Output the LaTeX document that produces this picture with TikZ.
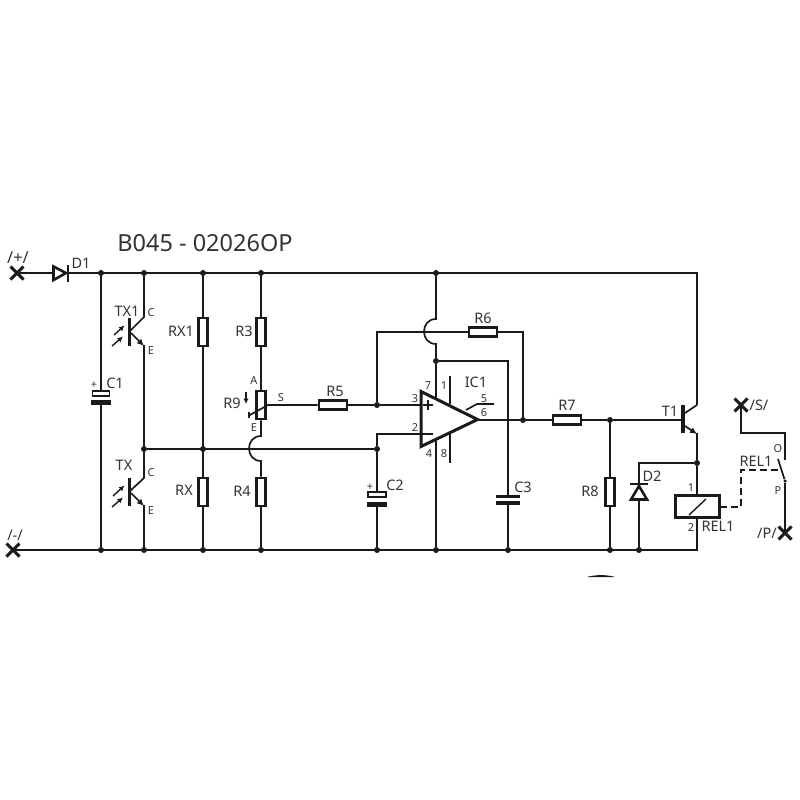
\documentclass[tikz,border=0pt]{standalone}
\usepackage{fontspec}
\setmainfont{Noto Sans}
\usetikzlibrary{arrows.meta}
\definecolor{ink}{HTML}{1A1A1A}
\definecolor{txt}{HTML}{333333}
\tikzset{
  wire/.style={draw=ink,line width=1.7pt,line join=miter},
  thickw/.style={draw=ink,line width=2.1pt},
  resv/.style={draw=ink,line width=2.6pt,fill=white,minimum width=9.5pt,minimum height=28pt,inner sep=0pt},
  resh/.style={draw=ink,line width=2.6pt,fill=white,minimum width=28pt,minimum height=9.5pt,inner sep=0pt},
  dot/.style={circle,fill=ink,inner sep=0pt,minimum size=6pt},
  smalldot/.style={circle,fill=ink,inner sep=0pt,minimum size=3.5pt},
  lab/.style={text=txt,font=\fontsize{14.5}{14.5}\selectfont,inner sep=0pt},
  pin/.style={text=txt,font=\fontsize{11}{11}\selectfont,inner sep=0pt},
  term/.style={draw=ink,line width=3pt},
  base/.style={draw=ink,line width=3.6pt},
  arr/.style={draw=ink,line width=1.4pt,-{Latex[length=5.5pt,width=5.5pt]}},
  emit/.style={draw=ink,line width=1.7pt,-{Latex[length=7pt,width=6.5pt]}},
  dashw/.style={draw=ink,line width=2.2pt,dash pattern=on 7pt off 4pt},
}
\begin{document}
\begin{tikzpicture}[x=1pt,y=-1pt]
\useasboundingbox[fill=white] (0,0) rectangle (800,800);
% terminals and rail points
\coordinate (tp) at (17,273); \coordinate (tm) at (13,550);
\coordinate (ts) at (741,405); \coordinate (tq) at (785,533);
\coordinate (da) at (52,273); \coordinate (dk) at (68,273);
\coordinate (tr) at (697,273); \coordinate (br) at (697,550);
\foreach \n/\x in {t1/101,t2/144,t3/203,t4/261,t5/436}{\node[dot] (\n) at (\x,273) {};}
\foreach \n/\x in {b1/101,b2/144,b3/203,b4/261,b5/377,b6/436,b7/508,b8/610,b9/639}{\node[dot] (\n) at (\x,550) {};}
\node[dot] (m1) at (144,449) {};
\node[dot] (m2) at (203,449) {};
\node[dot] (m3) at (377,449) {};
\node[dot] (p3) at (377,405) {};
\node[dot] (v7) at (436,361) {};
\node[dot] (o6) at (523,420) {};
\node[dot] (b8t) at (610,420) {};
\node[dot] (e1) at (697,463) {};
% resistors
\node[resv] (RX1) at (203,332) {};
\node[resv] (RX) at (203,492) {};
\node[resv] (R3) at (261,332) {};
\node[resv] (R4) at (261,492) {};
\node[resv] (R9) at (261,405) {};
\node[resv] (R8) at (610,492) {};
\node[resh] (R5) at (333,405) {};
\node[resh] (R6) at (483,332) {};
\node[resh] (R7) at (567,420) {};
% rails
\draw[wire] (tp) -- (da);
\draw[wire] (dk) -- (tr) -- (697,405);
\draw[wire] (tm) -- (br) -- (697,518);
\draw[draw=ink,line width=2.6pt,fill=white,line join=miter] (53.5,266.5) -- (66,273) -- (53.5,280) -- cycle;
\draw[draw=ink,line width=2.8pt] (68,265) -- (68,282);
% terminals
\foreach \c in {tp,tm,ts,tq}{\draw[term] ([shift={(-6.5,-6.5)}]\c) -- ([shift={(6.5,6.5)}]\c) ([shift={(-6.5,6.5)}]\c) -- ([shift={(6.5,-6.5)}]\c);}
% C1
\coordinate (c1a) at (101,393.5); \coordinate (c1b) at (101,402.5);
\draw[wire] (t1) -- (c1a); \draw[wire] (c1b) -- (b1);
\draw[draw=ink,line width=1.8pt,fill=white] (92.5,391) rectangle (109.5,396);
\fill[ink] (91,400) rectangle (111,405);
% TX1
\draw[wire] (t2) -- (144,317) -- (130,331);
\draw[base] (129.5,318) -- (129.5,346);
\draw[emit] (131,333) -- (144,346);
\draw[wire] (144,345) -- (m1) -- (144,478) -- (130,491);
\draw[arr] (114,335) -- (124.5,325.5);
\draw[arr] (112,346) -- (123,336.5);
% TX
\draw[base] (129.5,478) -- (129.5,506);
\draw[emit] (131,493) -- (144,506);
\draw[wire] (144,505) -- (b2);
\draw[arr] (113,496) -- (124.5,485.5);
\draw[arr] (112,507) -- (123,497.5);
% divider columns
\draw[wire] (t3) -- (RX1) -- (RX) -- (b3);
\draw[wire] (t4) -- (R3) -- (R9);
\draw[wire] (R9.south) -- (261,436) .. controls (245,436) and (245,461) .. (261,461) -- (R4.north);
\draw[wire] (R4) -- (b4);
\draw[thickw] (m1) -- (m3);
% wiper
\draw[wire] (249,415.5) -- (268,405) -- (R5.west);
\draw[wire] (249,412) -- (249,418);
\draw[arr] (246,392) -- (246,404);
% R5 to op amp
\draw[wire] (R5.east) -- (p3) -- (421,405);
\draw[wire] (p3) -- (377,332) -- (R6.west);
\draw[wire] (R6.east) -- (523,332) -- (o6);
% minus input
\draw[wire] (m3) -- (377,434) -- (433,434);
\draw[wire] (m3) -- (377,493);
\draw[wire] (377,503) -- (b5);
\draw[draw=ink,line width=1.8pt,fill=white] (368,492) rectangle (386,497);
\fill[ink] (367,502) rectangle (387,507);
% supply
\draw[wire] (t5) -- (436,319) .. controls (420,319) and (420,344) .. (436,344) -- (v7) -- (436,398);
\draw[wire] (436,441) -- (b6);
\draw[wire] (v7) -- (508,361) -- (508,496);
\draw[wire] (508,503) -- (b7);
\fill[ink] (496,494.5) rectangle (520,498);
\fill[ink] (496,501) rectangle (520,504.5);
% pin bars
\draw[wire] (450,376) -- (450,404);
\draw[wire] (450,434) -- (450,463);
\draw[wire] (466,410) -- (477,404) -- (494,404);
% op amp
\draw[draw=ink,line width=3pt,line join=miter] (421,391.5) -- (477.5,419.5) -- (421,446.5) -- cycle;
\draw[draw=ink,line width=1.7pt] (423,405) -- (433,405) (428,400) -- (428,410);
% output
\draw[wire] (479,420) -- (o6) -- (R7.west);
\draw[wire] (R7.east) -- (b8t) -- (682,420);
\draw[wire] (b8t) -- (R8) -- (b8);
% T1
\draw[base] (683,405) -- (683,433);
\draw[wire] (685,413) -- (697,405);
\draw[emit] (685,426) -- (697,434);
\draw[wire] (697,433) -- (e1);
% D2
\draw[wire] (e1) -- (639,463) -- (639,485);
\draw[wire] (639,499) -- (b9);
\draw[draw=ink,line width=2.6pt,fill=white,line join=miter] (639,486) -- (647,499.5) -- (631,499.5) -- cycle;
\draw[draw=ink,line width=2.6pt] (630,484) -- (648,484);
% relay
\draw[wire] (e1) -- (697,495);
\draw[draw=ink,line width=3pt,fill=white] (675.5,495.5) rectangle (719.5,517.5);
\draw[draw=ink,line width=1.4pt] (689,515) -- (706,499);
\draw[dashw] (720,507) -- (741,507) -- (741,470) -- (780,470);
% switch
\node[smalldot] (sw) at (785,481) {};
\draw[wire] (ts) -- (741,433) -- (785,433) -- (785,460);
\draw[wire] (778,459) -- (sw) -- (tq);
% stray arc below the rail
\fill[ink] (587,577) .. controls (595,574.5) and (607,574.5) .. (615,577) -- cycle;
% texts
\node[inner sep=0pt,text=txt,font=\fontsize{23.5}{23.5}\selectfont] (title) at (205,243) {B045 - 02026OP};
\node[lab] (lD1) at (81,263) {D1};
\node[lab,font=\fontsize{16.5}{16.5}\selectfont] (lp) at (18,258) {/+/};
\node[lab] (lm) at (15,535) {/-/};
\node[lab] (lC1) at (115,383) {C1};
\node[pin] (lC1p) at (94,385) {+};
\node[lab] (lTX1) at (127,311) {TX1};
\node[pin] (lTX1c) at (151,313) {C};
\node[pin] (lTX1e) at (151,351) {E};
\node[lab] (lTX) at (124,465) {TX};
\node[pin] (lTXc) at (151,473) {C};
\node[pin] (lTXe) at (151,511) {E};
\node[lab] (lRX1) at (181,331) {RX1};
\node[lab] (lRX) at (184,490) {RX};
\node[lab] (lR3) at (244,331) {R3};
\node[lab] (lR4) at (242,491) {R4};
\node[lab] (lR9) at (232,403) {R9};
\node[pin] (lA) at (254,381) {A};
\node[pin] (lE) at (254,428) {E};
\node[pin] (lS) at (281,398) {S};
\node[lab] (lR5) at (335,391) {R5};
\node[lab] (lR6) at (483,318) {R6};
\node[lab] (lR7) at (567,405) {R7};
\node[lab] (lR8) at (590,491) {R8};
\node[lab] (lC2) at (395,485) {C2};
\node[pin] (lC2p) at (370,487) {+};
\node[lab] (lC3) at (523,487) {C3};
\node[lab] (lIC) at (476,382) {IC1};
\node[pin] (n7) at (428,386) {7};
\node[pin] (n1) at (444,386) {1};
\node[pin] (n3) at (415,399) {3};
\node[pin] (n2) at (415,428) {2};
\node[pin] (n4) at (429,454) {4};
\node[pin] (n8) at (444,454) {8};
\node[pin] (n5) at (484,399) {5};
\node[pin] (n6) at (484,413) {6};
\node[lab] (lT1) at (670,411) {T1};
\node[lab] (lD2) at (652,476) {D2};
\node[pin] (r1) at (691,488) {1};
\node[pin] (r2) at (691,528) {2};
\node[lab] (lREL) at (718,526) {REL1};
\node[lab] (lREL2) at (756,461) {REL1};
\node[pin] (lO) at (778,449) {O};
\node[pin] (lP) at (778,491) {P};
\node[lab] (lSS) at (759,405) {/S/};
\node[lab] (lPP) at (767,533) {/P/};
\end{tikzpicture}
\end{document}
